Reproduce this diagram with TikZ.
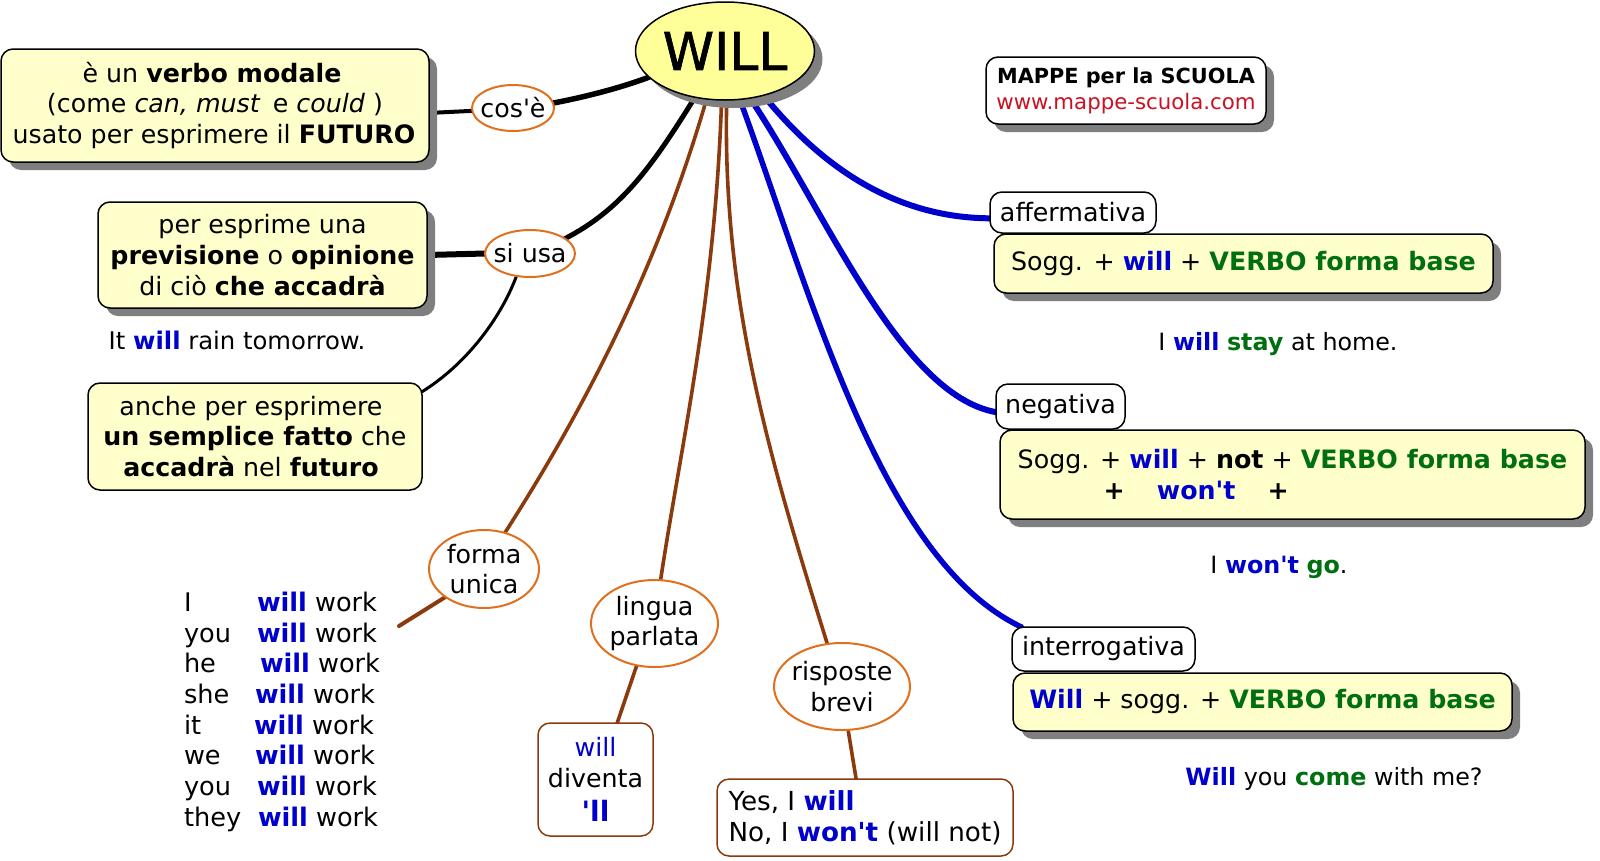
\documentclass[tikz,border=0pt]{standalone}
\usepackage{fontspec}
\setmainfont{DejaVu Sans}[Ligatures=TeXOff]
\newfontfamily\willfont{DejaVu Sans}[FakeBold=1.2]
\usetikzlibrary{shapes.geometric,shadows,backgrounds}
\definecolor{paley}{HTML}{FFFFCC}
\definecolor{willy}{HTML}{FFFF99}
\definecolor{shad}{HTML}{7F7F7F}
\definecolor{orng}{HTML}{E0701E}
\definecolor{brwn}{HTML}{8A3A0C}
\definecolor{blu}{HTML}{0000CC}
\definecolor{grn}{HTML}{006F10}
\definecolor{rd}{HTML}{CC1122}
\newcommand{\wb}[1]{\textcolor{blu}{\bfseries #1}}
\newcommand{\vg}[1]{\textcolor{grn}{\bfseries #1}}
\newcommand{\pr}[2]{\makebox[#1pt][l]{#2}}
\tikzset{
  txt/.style={font=\fontsize{25.3}{30.7}\selectfont,inner sep=0pt,outer sep=0pt,align=center},
  sized/.style 2 args={minimum width=#1pt,minimum height=#2pt},
  shd/.style={general shadow={shadow xshift=8pt,shadow yshift=-8pt,fill=shad}},
  ybox/.style={txt,rectangle,rounded corners=12pt,draw=black,line width=1.5pt,fill=paley,shd},
  wbox/.style={txt,rectangle,rounded corners=12pt,draw=black,line width=1.5pt,fill=white},
  bbox/.style={txt,rectangle,rounded corners=12pt,draw=brwn,line width=1.5pt,fill=white},
  oell/.style={txt,ellipse,draw=orng,line width=2pt,fill=white,inner sep=-9pt},
  free/.style={txt,font=\fontsize{23.8}{30.7}\selectfont},
  cb/.style={draw=black,line cap=round},
  cbr/.style={draw=brwn,line width=3.6pt,line cap=round},
  cbl/.style={draw=blu,line width=5.5pt,line cap=round},
}
\begin{document}
\begin{tikzpicture}[x=1pt,y=-1pt]
\path[use as bounding box] (0,0) rectangle (1600,860);

\node[ellipse,draw=black,line width=1.5pt,fill=willy,shd,inner sep=-4pt,outer sep=0pt,sized={179}{98},font=\willfont\fontsize{52}{60}\selectfont] (will) at (725,51) {WILL};

\node[ybox,sized={428}{113}] (cosbox) at (215,105.5) {è un \textbf{verbo modale}\hspace*{6pt}\\(come \textit{can, must}\, e \textit{could} )\hspace*{2pt}\\usato per esprimere il \textbf{FUTURO}\hspace*{2pt}};
\node[ybox,sized={329}{106}] (prev) at (262.5,255) {per esprime una\\\textbf{previsione} o \textbf{opinione}\\di ciò \textbf{che accadrà}};
\node[txt,rectangle,rounded corners=12pt,draw=black,line width=1.5pt,fill=paley,sized={334}{107}] (fatto) at (255,436.5) {anche per esprimere\hspace*{8pt}\\\textbf{un semplice fatto} che\hspace*{8pt}\\\textbf{accadrà} nel \textbf{futuro}\hspace*{8pt}};

\node[oell,sized={82}{46}] (cos) at (513,108) {cos'è};
\node[oell,sized={90}{47}] (siusa) at (530,253.5) {si usa};
\node[oell,sized={110}{78}] (forma) at (484,569) {forma\\unica};
\node[oell,sized={127}{87}] (lingua) at (654.5,623.5) {lingua\\parlata};
\node[oell,sized={136}{87}] (risp) at (842,686.5) {risposte\\brevi};

\node[bbox,sized={115}{113}] (dive) at (595.5,779.5) {\textcolor{blu}{will}\\diventa\\[3pt]{\fontsize{28}{30.7}\selectfont\wb{'ll}}};
\node[bbox,sized={296}{77},align=left,font=\fontsize{26.2}{30.7}\selectfont] (yes) at (865,817.5) {Yes, I \wb{will}\\No, I \wb{won't} (will not)};

\node[txt,font=\fontsize{25.6}{30.7}\selectfont,align=left,anchor=north west] (list) at (184,592) {\pr{73}{I}\wb{will} work\\\pr{73}{you}\wb{will} work\\\pr{76}{he}\wb{will} work\\\pr{71}{she}\wb{will} work\\\pr{70}{it}\wb{will} work\\\pr{71}{we}\wb{will} work\\\pr{73}{you}\wb{will} work\\\pr{74}{they}\wb{will} work};

\node[txt,font=\fontsize{24.3}{30.7}\selectfont] (ex1) at (237,340) {It \wb{will} rain tomorrow.};

\node[wbox,sized={280}{67},shd,align=center] (logo) at (1126,90.5) {{\fontsize{20.8}{24.5}\selectfont\textbf{MAPPE per la SCUOLA}}\\[-5pt]{\fontsize{21.3}{24.5}\selectfont\textcolor{rd}{www.mappe-scuola.com}}};

\node[ybox,sized={499}{59}] (aff) at (1243.5,263.5) {Sogg. + \wb{will} + \vg{VERBO forma base}};
\node[wbox,sized={166}{41}] (afft) at (1073,212.5) {affermativa};
\node[free] (ex2) at (1278,344) {I \wb{will} \vg{stay} at home.};

\node[ybox,sized={585}{89},align=left] (neg) at (1292.5,474.5) {Sogg. + \wb{will} + \textbf{not} + \vg{VERBO forma base}\\\hspace*{86pt}\textbf{+}\hspace*{32pt}\wb{won't}\hspace*{32pt}\textbf{+}};
\node[wbox,sized={129}{45}] (negt) at (1060.5,406.5) {negativa};
\node[free] (ex3) at (1279,567) {I \wb{won't} \vg{go}.};

\node[ybox,sized={499}{58}] (intb) at (1262.5,702) {\wb{Will} + sogg. + \vg{VERBO forma base}};
\node[wbox,sized={183}{44}] (intt) at (1103.5,649) {interrogativa};
\node[free] (ex4) at (1334,779) {\wb{Will} you \vg{come} with me?};

\coordinate (listend) at (399,626);

\begin{pgfonlayer}{background}
\draw[cb,line width=4pt] (cosbox.358) -- (cos.184);
\draw[cb,line width=5.5pt] (cos.7) .. controls (585,97) and (620,88) .. (will.199);
\draw[cb,line width=6pt] (prev.east) -- (siusa.west);
\draw[cb,line width=5pt] (siusa.23) .. controls (620,210) and (650,170) .. (will.237);
\draw[cb,line width=3pt] (siusa.239) .. controls (500,320) and (465,365) .. (fatto.15);
\draw[cbr] (forma.60) .. controls (590,400) and (660,260) .. (will.249);
\draw[cbr,line width=4pt] (forma.216) -- (listend);
\draw[cbr] (lingua.82) .. controls (680,450) and (715,300) .. (will.266);
\draw[cbr] (lingua.247) -- (dive.69);
\draw[cbr] (risp.109) .. controls (770,460) and (722,300) .. (will.272);
\draw[cbr] (risp.278) -- (yes.103);
\draw[cbl,line width=6pt] (will.311) .. controls (840,190) and (920,218) .. (afft.184);
\draw[cbl,line width=6pt] (will.298) .. controls (825,210) and (900,395) .. (negt.185);
\draw[cbl] (will.287) .. controls (810,290) and (880,560) .. (intt.165);
\end{pgfonlayer}
\end{tikzpicture}
\end{document}
